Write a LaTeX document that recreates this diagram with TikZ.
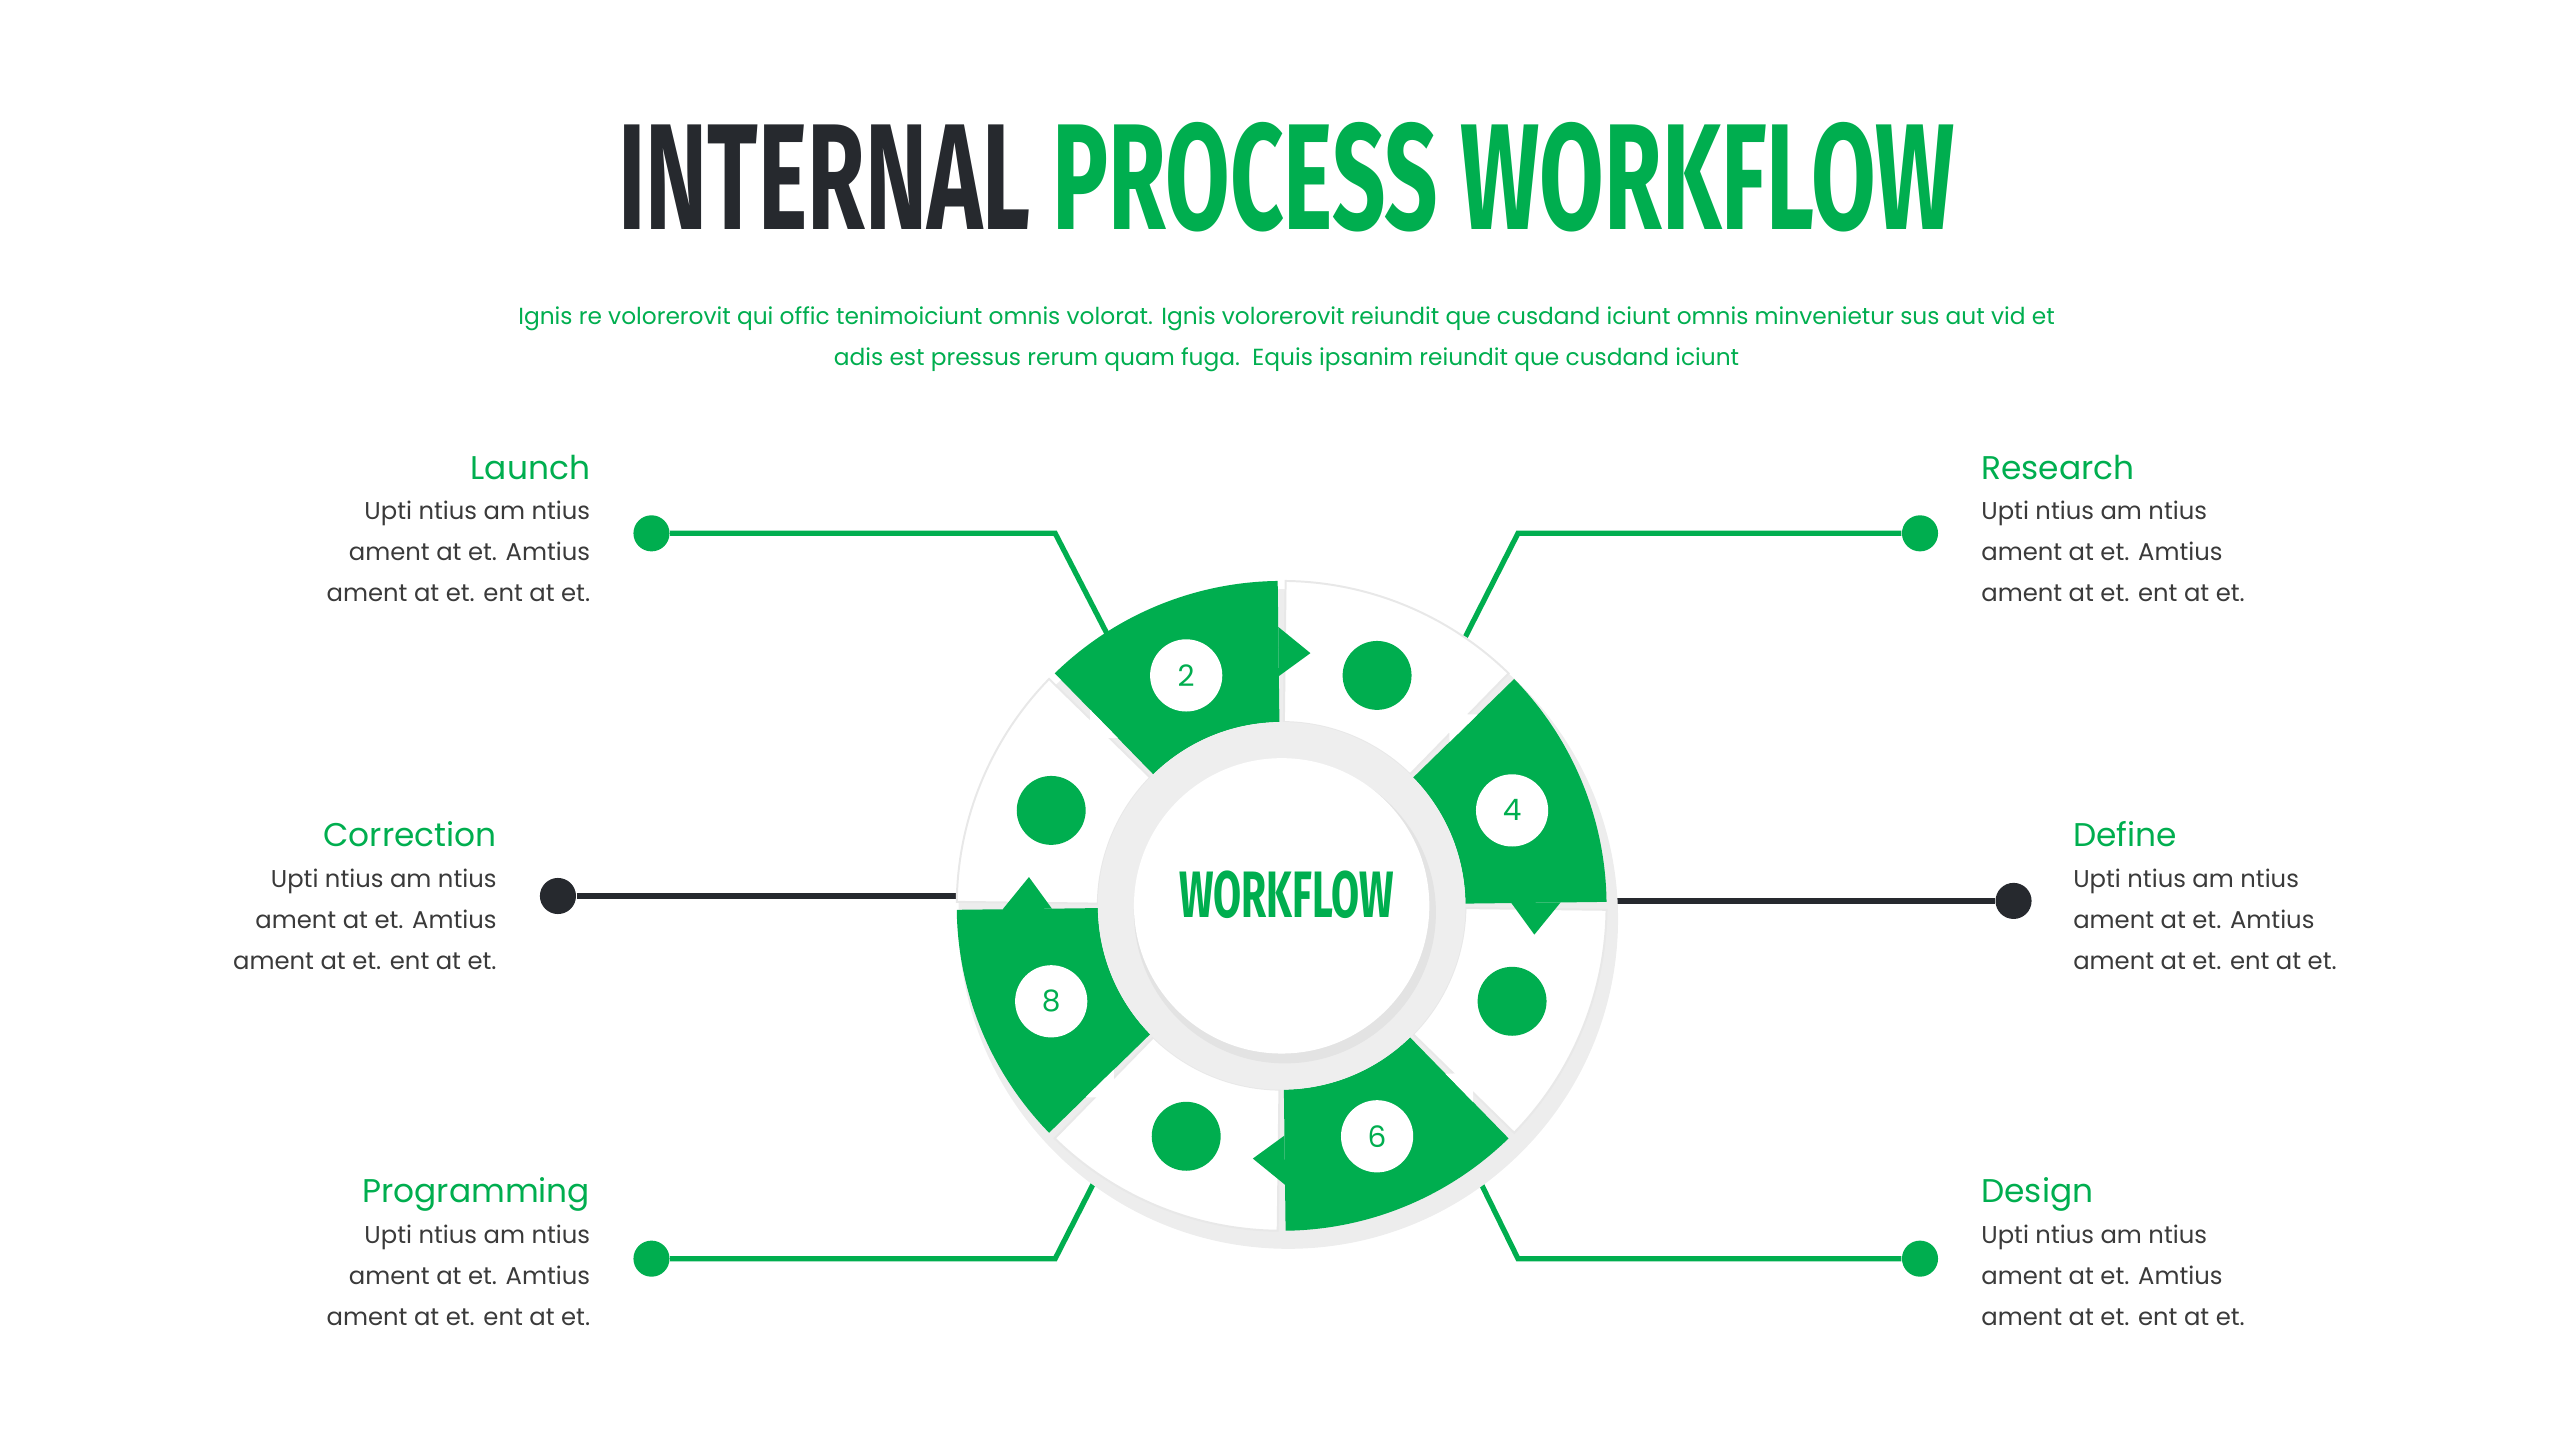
\documentclass[tikz,border=0pt]{standalone}
\usepackage{fontspec}
\setmainfont{Poppins}
\newfontfamily\bebas{Fira Sans}[FakeStretch=0.62,UprightFont=* Bold]
\definecolor{grn}{HTML}{00AE4F}
\definecolor{drk}{HTML}{26292E}
\definecolor{txt}{HTML}{3A3A3A}
\begin{document}
\begin{tikzpicture}[x=0.5pt,y=-0.5pt,
  conn/.style={line width=1.6pt,grn},
  dconn/.style={line width=1.6pt,drk},
  head/.style={font=\fontsize{10}{12}\selectfont,text=grn,inner sep=0},
  body/.style={font=\fontsize{7.4}{12.5}\selectfont,text=txt,inner sep=0},
  gseg/.style={fill=grn},
  wseg/.style={fill=white,draw=gray!18,line width=0.6pt},
  num/.style={circle,fill=white,minimum size=22pt,inner sep=0,text=grn,font=\fontsize{9}{9}\selectfont},
  gdot/.style={circle,fill=grn,minimum size=21pt,inner sep=0},
  edot/.style={circle,fill=grn,minimum size=11pt,inner sep=0},
  edotd/.style={circle,fill=drk,minimum size=11pt,inner sep=0}]
\useasboundingbox (0,0) rectangle (1560,877.5);
% title
\node (title) at (784,108) {\bebas\fontsize{46}{46}\selectfont\textcolor{drk}{INTERNAL} \textcolor{grn}{PROCESS WORKFLOW}};
\node (sub) at (784,207) [align=center,text=grn,font=\fontsize{7.1}{12.5}\selectfont] {Ignis re volorerovit qui offic tenimoiciunt omnis volorat. Ignis volorerovit reiundit que cusdand iciunt omnis minvenietur sus aut vid et\\adis est pressus rerum quam fuga.\ \ Equis ipsanim reiundit que cusdand iciunt};
% connectors
\node[edot] (d1) at (397,325) {}; \coordinate (k1) at (643,325); \coordinate (e1) at (675,387);
\draw[conn] (d1) -- (k1) -- (e1);
\node[edot] (d2) at (1170,325) {}; \coordinate (k2) at (925,325); \coordinate (e2) at (893,388);
\draw[conn] (d2) -- (k2) -- (e2);
\node[edot] (d3) at (397,767) {}; \coordinate (k3) at (643,767); \coordinate (e3) at (671,712);
\draw[conn] (d3) -- (k3) -- (e3);
\node[edot] (d4) at (1170,767) {}; \coordinate (k4) at (925,767); \coordinate (e4) at (897,710);
\draw[conn] (d4) -- (k4) -- (e4);
\node[edotd] (d5) at (340,546) {}; \coordinate (e5) at (598,546);
\draw[dconn] (d5) -- (e5);
\node[edotd] (d6) at (1227,549) {}; \coordinate (e6) at (972,549);
\draw[dconn] (d6) -- (e6);
% ring
\begin{scope}[shift={(781,552)},yscale=-1]
  \fill[gray!14] (4,-8) circle (201);
  \foreach \a in {45,135,225,315}{
    \path[wseg] (\a+0.7:112) -- (\a+0.7:198) arc (\a+0.7:\a+44.3:198) -- (\a+44.3:112) arc (\a+44.3:\a+0.7:112) -- cycle;
  }
  \foreach \a in {0,90,180,270}{
    \fill[gseg] (\a+0.7:112) -- (\a+0.7:198) arc (\a+0.7:\a+44.3:198) -- (\a+44.3:112) arc (\a+44.3:\a+0.7:112) -- cycle;
    \fill[gseg] (\a+0.7:140) -- (\a-6.5:155) -- (\a+0.7:170) -- cycle;
    \fill[white] (\a+44.3:143) -- (\a+49:155) -- (\a+44.3:167) -- cycle;
  }
  \fill[gray!13] (0,0) circle (112);
  \fill[gray!22] (2,-4) circle (92);
  \fill[white] (0,0) circle (90);
  \node[num] (n2) at (112.5:152) {2};
  \node[num] (n4) at (22.5:152) {4};
  \node[num] (n6) at (-67.5:152) {6};
  \node[num] (n8) at (202.5:152) {8};
  \node[gdot] (g1) at (67.5:152) {};
  \node[gdot] (g2) at (-22.5:152) {};
  \node[gdot] (g3) at (-112.5:152) {};
  \node[gdot] (g4) at (157.5:152) {};
  \node (wf) at (3,7) {\bebas\fontsize{20}{20}\selectfont\textcolor{grn}{WORKFLOW}};
\end{scope}
% text blocks
\node[head,anchor=base east] (h1) at (360,292) {Launch};
\node[body,anchor=north east,align=right] (b1) at (360,305) {Upti ntius am ntius\\ament at et. Amtius\\ament at et. ent at et.};
\node[head,anchor=base east] (h2) at (303,516) {Correction};
\node[body,anchor=north east,align=right] (b2) at (303,529) {Upti ntius am ntius\\ament at et. Amtius\\ament at et. ent at et.};
\node[head,anchor=base east] (h3) at (360,733) {Programming};
\node[body,anchor=north east,align=right] (b3) at (360,746) {Upti ntius am ntius\\ament at et. Amtius\\ament at et. ent at et.};
\node[head,anchor=base west] (h4) at (1207,292) {Research};
\node[body,anchor=north west,align=left] (b4) at (1207,305) {Upti ntius am ntius\\ament at et. Amtius\\ament at et. ent at et.};
\node[head,anchor=base west] (h5) at (1263,516) {Define};
\node[body,anchor=north west,align=left] (b5) at (1263,529) {Upti ntius am ntius\\ament at et. Amtius\\ament at et. ent at et.};
\node[head,anchor=base west] (h6) at (1207,733) {Design};
\node[body,anchor=north west,align=left] (b6) at (1207,746) {Upti ntius am ntius\\ament at et. Amtius\\ament at et. ent at et.};
\end{tikzpicture}
\end{document}
